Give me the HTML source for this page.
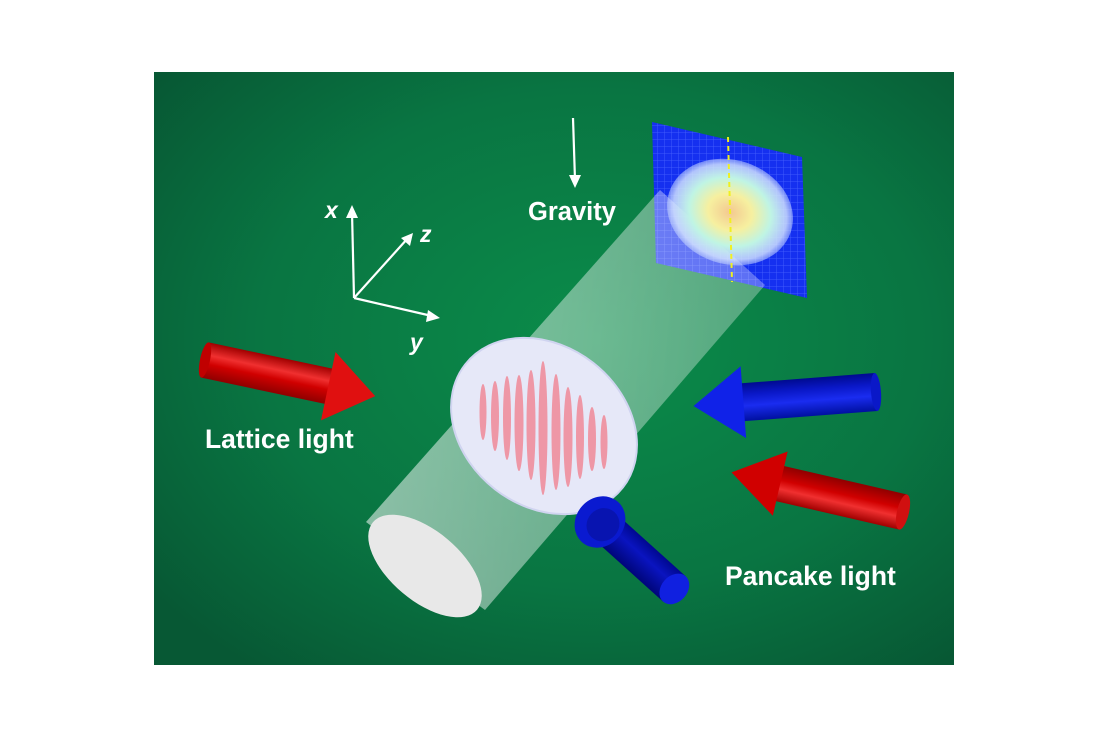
<!DOCTYPE html>
<html><head><meta charset="utf-8"><style>
html,body{margin:0;padding:0;background:#fff;}
svg{display:block;}
text{font-family:"Liberation Sans",sans-serif;font-weight:bold;fill:#fff;}
</style></head><body>
<svg width="1108" height="740" viewBox="0 0 1108 740" xmlns="http://www.w3.org/2000/svg">
<defs>
<radialGradient id="bg" cx="0.55" cy="0.45" r="0.7">
<stop offset="0" stop-color="#0b8c4a"/><stop offset="0.6" stop-color="#097542"/><stop offset="1" stop-color="#075834"/>
</radialGradient>
<linearGradient id="beam" x1="0" y1="0" x2="1" y2="0.1" gradientUnits="objectBoundingBox">
<stop offset="0" stop-color="#fff" stop-opacity="0.55"/><stop offset="1" stop-color="#fff" stop-opacity="0.3"/>
</linearGradient>
<linearGradient id="red" x1="0" y1="0" x2="0" y2="1">
<stop offset="0" stop-color="#a00000"/><stop offset="0.35" stop-color="#f03030"/><stop offset="0.6" stop-color="#d00000"/><stop offset="1" stop-color="#900000"/>
</linearGradient>
<linearGradient id="blue" x1="0" y1="0" x2="0" y2="1">
<stop offset="0" stop-color="#0010a0"/><stop offset="0.4" stop-color="#1a2cf0"/><stop offset="0.7" stop-color="#0a18c8"/><stop offset="1" stop-color="#000a90"/>
</linearGradient>
<linearGradient id="navy" x1="0" y1="0" x2="0" y2="1">
<stop offset="0" stop-color="#000890"/><stop offset="0.4" stop-color="#0a14c0"/><stop offset="1" stop-color="#00067a"/>
</linearGradient>
<radialGradient id="spot" cx="0.5" cy="0.5" r="0.5">
<stop offset="0" stop-color="#f3c890"/><stop offset="0.35" stop-color="#f6f0a0"/><stop offset="0.65" stop-color="#bff4e4"/><stop offset="0.9" stop-color="#d8e8ff" stop-opacity="0.8"/><stop offset="1" stop-color="#c8d8ff" stop-opacity="0.5"/>
</radialGradient>
<pattern id="grid" width="7" height="7" patternUnits="userSpaceOnUse">
<path d="M7 0V7H0" fill="none" stroke="#4a64ff" stroke-width="0.8"/>
</pattern>
</defs>
<rect x="154" y="72" width="800" height="593" fill="url(#bg)"/>

<polygon points="652,122 802,157 807,298 656,263" fill="#1530f0"/>
<polygon points="652,122 802,157 807,298 656,263" fill="url(#grid)"/>

<polygon points="366,522 660,190 765,285 485,610" fill="url(#beam)"/>
<ellipse cx="730" cy="212" rx="64" ry="52" transform="rotate(18 730 212)" fill="url(#spot)"/>
<line x1="728" y1="137" x2="732" y2="282" stroke="#f0f020" stroke-width="2" stroke-dasharray="5,4"/>

<ellipse cx="425" cy="566" rx="68" ry="35" transform="rotate(40 425 566)" fill="#e8e8e8"/>

<ellipse cx="544" cy="426" rx="100" ry="80" transform="rotate(38 544 426)" fill="#e6e8f8" stroke="#d0d4f0" stroke-width="2"/>
<g fill="#f08a98" opacity="0.85">
<ellipse cx="483" cy="412" rx="3.5" ry="28"/>
<ellipse cx="495" cy="416" rx="4" ry="35"/>
<ellipse cx="507" cy="418" rx="4" ry="42"/>
<ellipse cx="519" cy="423" rx="4.5" ry="48"/>
<ellipse cx="531" cy="425" rx="4.5" ry="55"/>
<ellipse cx="543" cy="428" rx="4.5" ry="67"/>
<ellipse cx="556" cy="432" rx="4.5" ry="58"/>
<ellipse cx="568" cy="437" rx="4.5" ry="50"/>
<ellipse cx="580" cy="437" rx="4" ry="42"/>
<ellipse cx="592" cy="439" rx="4" ry="32"/>
<ellipse cx="604" cy="442" rx="3.5" ry="27"/>
</g>

<!-- small blue arrow -->
<g transform="translate(600,522) rotate(42)">
<rect x="0" y="-17" width="100" height="34" fill="url(#navy)"/>
<ellipse cx="100" cy="0" rx="13" ry="17" fill="#1020e0"/>
<ellipse cx="0" cy="0" rx="24" ry="27" fill="#0a1ad0"/>
<ellipse cx="4" cy="0" rx="16" ry="17" fill="#0814b0"/>
</g>

<g transform="translate(205,360) rotate(12)">
<rect x="0" y="-18" width="130" height="36" fill="url(#red)"/>
<ellipse cx="0" cy="0" rx="5" ry="18" fill="#c00000"/>
<polygon points="126,-35 174,0 126,35" fill="#e01010"/>
</g>
<g transform="translate(876,392) rotate(175.6)">
<rect x="0" y="-19" width="135" height="38" fill="url(#blue)"/>
<ellipse cx="0" cy="0" rx="5" ry="19" fill="#0a18c8"/>
<polygon points="133,-36 183,0 133,36" fill="#1022e8"/>
</g>
<g transform="translate(903,512) rotate(193)">
<rect x="0" y="-18" width="128" height="36" fill="url(#red)"/>
<ellipse cx="0" cy="0" rx="6" ry="18" fill="#d01010"/>
<polygon points="126,-33 176,0 126,33" fill="#d00000"/>
</g>

<g stroke="#fff" stroke-width="2.2" fill="none">
<line x1="354" y1="298" x2="352" y2="212"/>
<line x1="354" y1="298" x2="408" y2="238"/>
<line x1="354" y1="298" x2="432" y2="316"/>
<line x1="573" y1="118" x2="575" y2="180"/>
</g>
<g fill="#fff">
<polygon points="352,205 346,218 358,218"/>
<polygon points="413,233 401,238 410,246"/>
<polygon points="440,318 428,310 426,322"/>
<polygon points="575,188 569,175 581,175"/>
</g>
<text x="325" y="218" font-size="23" font-style="italic">x</text>
<text x="420" y="242" font-size="23" font-style="italic">z</text>
<text x="410" y="350" font-size="23" font-style="italic">y</text>
<text x="528" y="220" font-size="25.5">Gravity</text>
<text x="205" y="448" font-size="26.5">Lattice light</text>
<text x="725" y="585" font-size="26.5">Pancake light</text>
</svg>
</body></html>
